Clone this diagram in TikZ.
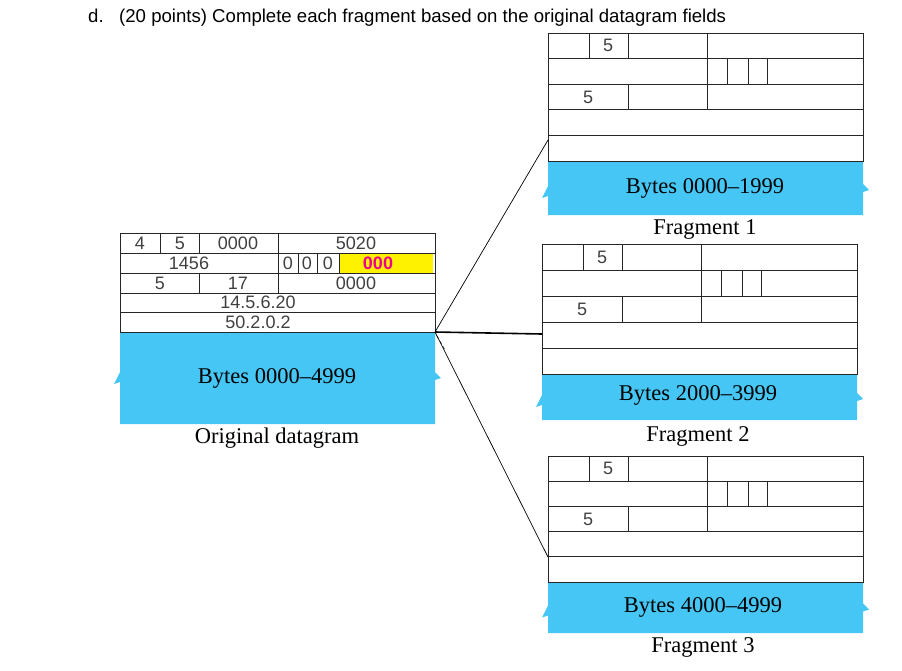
\documentclass[tikz,border=0pt]{standalone}
\usepackage{fontspec}
\setmainfont{Liberation Serif}
\newfontfamily\sansf{Liberation Sans}
\begin{document}
\begin{tikzpicture}[x=1pt,y=-1pt,
  cell/.style={draw=black!85,line width=1pt},
  hd/.style={font=\sansf\fontsize{18}{18}\selectfont,text=black!75,inner sep=0},
  lab/.style={font=\fontsize{22.5}{22.5}\selectfont,inner sep=0},
  conn/.style={draw=black,line width=0.7pt}]
\definecolor{bl}{RGB}{70,198,244}
\useasboundingbox (0,0) rectangle (902,670);
\node[anchor=west,font=\sansf\fontsize{18.6}{18.6}\selectfont,inner sep=0] (title) at (88,18) {d.\ \ \ (20 points) Complete each fragment based on the original datagram fields};
% torn blue block: #1 x0 #2 x1 #3 top #4 bottom #5 notch y left #6 notch y right
\newcommand\tornblock[6]{%
  \fill[bl] ({#1},{#3}) -- ({#2},{#3}) -- ({#2},{#6-8}) -- ({#2+6},{#6-2}) -- ({#2},{#6}) -- ({#2},{#4}) -- ({#1},{#4}) -- ({#1},{#5+4}) -- ({#1-6},{#5+6}) -- ({#1},{#5-6}) -- cycle;}
% original datagram
\tornblock{120}{435}{332}{424}{378}{380}
\fill[yellow] (339,253) rectangle (433,273);
\draw[cell] (120,233) rectangle (435,332);
\foreach \y in {253,273,293,312} \draw[cell] (120,\y) -- (435,\y);
\draw[cell] (160,233)--(160,253) (199,233)--(199,253) (278,233)--(278,293) (199,273)--(199,293)
  (298,253)--(298,273) (317,253)--(317,273) (339,253)--(339,273);
\node[hd] (a1) at (140,243) {4};
\node[hd] (a2) at (180,243) {5};
\node[hd] (a3) at (238,243) {0000};
\node[hd] (a4) at (356,243) {5020};
\node[hd] (b1) at (189,263) {1456};
\node[hd] (b2) at (288,263) {0};
\node[hd] (b3) at (307,263) {0};
\node[hd] (b4) at (328,263) {0};
\node[hd,text=magenta,font=\sansf\bfseries\fontsize{18}{18}\selectfont] (b5) at (378,263) {000};
\node[hd] (c1) at (160,283) {5};
\node[hd] (c2) at (238,283) {17};
\node[hd] (c3) at (356,283) {0000};
\node[hd] (d1) at (258,302) {14.5.6.20};
\node[hd] (e1) at (258,322) {50.2.0.2};
\node[lab] (ob) at (277,378) {Bytes 0000--4999};
\node[lab] (ol) at (277,438) {Original datagram};
\coordinate (src) at (435,332);
% fragment macro: #1 x0, #2 y0, #3 row height, #4 blue height, #5 name
\newcommand\fragbox[5]{%
  \begin{scope}[shift={(#1,#2)}]
  \pgfmathsetmacro\hb{5*#3}
  \pgfmathsetmacro\hn{5*#3+#4/2+4}
  \tornblock{0}{315}{\hb}{\hb+#4}{\hn}{\hn}
  \draw[cell] (0,0) rectangle (315,\hb);
  \foreach \i in {1,2,3,4} \draw[cell] (0,{\i*#3}) -- (315,{\i*#3});
  \draw[cell] (41,0)--(41,#3) (80,0)--(80,#3) (159,0)--(159,{3*#3})
     (179,#3)--(179,{2*#3}) (200,#3)--(200,{2*#3}) (219,#3)--(219,{2*#3}) (80,{2*#3})--(80,{3*#3});
  \node[hd] (#5a) at (60,{0.5*#3}) {5};
  \node[hd] (#5b) at (40,{2.5*#3}) {5};
  \end{scope}}
\fragbox{548}{33}{25.6}{54}{f1}
\fragbox{542}{244}{26}{46}{f2}
\fragbox{548}{456}{25.2}{51}{f3}
\node[lab] (f1l) at (705,188) {Bytes 0000--1999};
\node[lab] (f1n) at (705,229) {Fragment 1};
\node[lab] (f2l) at (698,395) {Bytes 2000--3999};
\node[lab] (f2n) at (698,436) {Fragment 2};
\node[lab] (f3l) at (703,607) {Bytes 4000--4999};
\node[lab] (f3n) at (703,647) {Fragment 3};
\coordinate (t1) at (548,140);
\coordinate (t2) at (542,334);
\coordinate (t3) at (548,557);
\draw[conn] (src) -- (t1);
\draw[conn,line width=1.6pt] (src) -- (t2);
\draw[conn] (src) -- (t3);
\draw[conn,dashed,line width=0.5pt] (437,336) -- (445,350);
\end{tikzpicture}
\end{document}
